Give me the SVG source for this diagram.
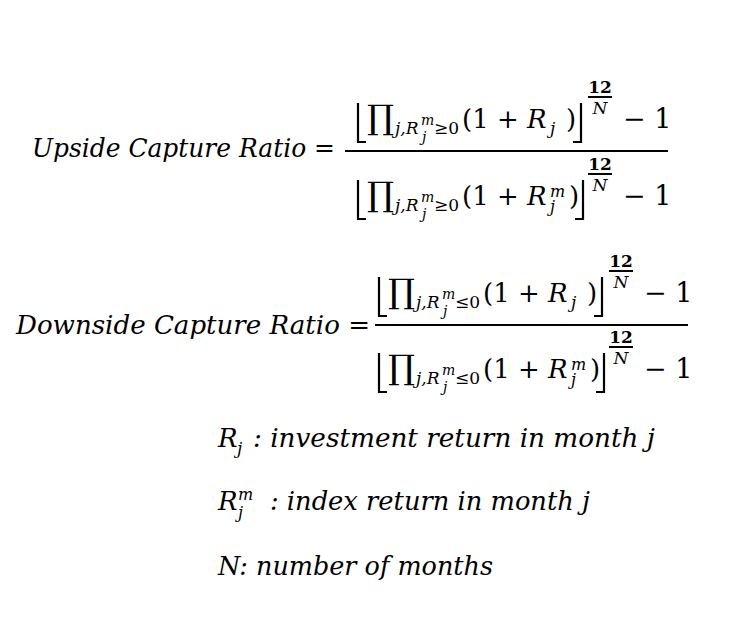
<svg xmlns="http://www.w3.org/2000/svg" width="742" height="634" viewBox="0 0 742 634">
<style>
text{font-family:"DejaVu Serif","Liberation Serif",serif;font-style:italic;fill:#000}
.up{font-style:normal}
.b{fill:none;stroke:#000;stroke-width:2.2}
.fb{stroke:#000;stroke-width:2}
</style>
<defs>
<g id="num">
<path class="b" d="M1,-25V14H9"/>
<text x="10" y="1" class="up" font-size="34">∏</text>
<text x="38" y="6" font-size="17">j,R</text>
<text x="64" y="-3" font-size="14">m</text>
<text x="65" y="14" font-size="14">j</text>
<text x="77" y="6" class="up" font-size="17">≥0</text>
<text x="105" y="0" class="up" font-size="26">(1 + <tspan style="font-style:italic">R</tspan></text>
<text x="193" y="6" font-size="17">j</text>
<text x="209" y="0" class="up" font-size="26">)</text>
<path class="b" d="M216,14H224V-25"/>
<text x="243" y="-35" class="up" font-size="17" font-weight="bold" text-anchor="middle">12</text>
<line class="fb" x1="231" y1="-31" x2="255" y2="-31" stroke-width="1.5"/>
<text x="243" y="-14" font-size="17" text-anchor="middle">N</text>
<text x="266" y="0" class="up" font-size="27">− 1</text>
</g>
<g id="den">
<path class="b" d="M1,-25V14H9"/>
<text x="10" y="1" class="up" font-size="34">∏</text>
<text x="38" y="6" font-size="17">j,R</text>
<text x="64" y="-3" font-size="14">m</text>
<text x="65" y="14" font-size="14">j</text>
<text x="77" y="6" class="up" font-size="17">≥0</text>
<text x="105" y="0" class="up" font-size="26">(1 + <tspan style="font-style:italic">R</tspan></text>
<text x="193" y="-8" font-size="16">m</text>
<text x="193" y="7" font-size="16">j</text>
<text x="212" y="0" class="up" font-size="26">)</text>
<path class="b" d="M218,14H226V-25"/>
<text x="243" y="-35" class="up" font-size="17" font-weight="bold" text-anchor="middle">12</text>
<line class="fb" x1="231" y1="-31" x2="255" y2="-31" stroke-width="1.5"/>
<text x="243" y="-14" font-size="17" text-anchor="middle">N</text>
<text x="266" y="0" class="up" font-size="27">− 1</text>
</g>
<g id="numd">
<path class="b" d="M1,-25V14H9"/>
<text x="10" y="1" class="up" font-size="34">∏</text>
<text x="38" y="6" font-size="17">j,R</text>
<text x="64" y="-3" font-size="14">m</text>
<text x="65" y="14" font-size="14">j</text>
<text x="77" y="6" class="up" font-size="17">≤0</text>
<text x="105" y="0" class="up" font-size="26">(1 + <tspan style="font-style:italic">R</tspan></text>
<text x="193" y="6" font-size="17">j</text>
<text x="209" y="0" class="up" font-size="26">)</text>
<path class="b" d="M216,14H224V-25"/>
<text x="243" y="-35" class="up" font-size="17" font-weight="bold" text-anchor="middle">12</text>
<line class="fb" x1="231" y1="-31" x2="255" y2="-31" stroke-width="1.5"/>
<text x="243" y="-14" font-size="17" text-anchor="middle">N</text>
<text x="266" y="0" class="up" font-size="27">− 1</text>
</g>
<g id="dend">
<path class="b" d="M1,-25V14H9"/>
<text x="10" y="1" class="up" font-size="34">∏</text>
<text x="38" y="6" font-size="17">j,R</text>
<text x="64" y="-3" font-size="14">m</text>
<text x="65" y="14" font-size="14">j</text>
<text x="77" y="6" class="up" font-size="17">≤0</text>
<text x="105" y="0" class="up" font-size="26">(1 + <tspan style="font-style:italic">R</tspan></text>
<text x="193" y="-8" font-size="16">m</text>
<text x="193" y="7" font-size="16">j</text>
<text x="212" y="0" class="up" font-size="26">)</text>
<path class="b" d="M218,14H226V-25"/>
<text x="243" y="-35" class="up" font-size="17" font-weight="bold" text-anchor="middle">12</text>
<line class="fb" x1="231" y1="-31" x2="255" y2="-31" stroke-width="1.5"/>
<text x="243" y="-14" font-size="17" text-anchor="middle">N</text>
<text x="266" y="0" class="up" font-size="27">− 1</text>
</g>
</defs>
<g id="upside">
<text x="32" y="157" font-size="26" textLength="303" lengthAdjust="spacingAndGlyphs">Upside Capture Ratio =</text>
<line class="fb" x1="345" y1="151" x2="668" y2="151"/>
<use href="#num" transform="translate(357,128)"/>
<use href="#den" transform="translate(357,205)"/>
</g>
<g id="downside">
<text x="16" y="334" font-size="26" textLength="354" lengthAdjust="spacingAndGlyphs">Downside Capture Ratio =</text>
<line class="fb" x1="375" y1="325" x2="688" y2="325"/>
<use href="#numd" transform="translate(378,302)"/>
<use href="#dend" transform="translate(378,378)"/>
</g>
<g id="legend">
<text x="218" y="447" font-size="26">R</text>
<text x="237" y="454" font-size="17">j</text>
<text x="253" y="447" font-size="26" textLength="402" lengthAdjust="spacingAndGlyphs">: investment return in month j</text>
<text x="218" y="510" font-size="26">R</text>
<text x="238" y="500" font-size="16">m</text>
<text x="238" y="518" font-size="16">j</text>
<text x="270" y="510" font-size="26" textLength="320" lengthAdjust="spacingAndGlyphs">: index return in month j</text>
<text x="218" y="575" font-size="26" textLength="275" lengthAdjust="spacingAndGlyphs">N:  number of months</text>
</g>
</svg>
